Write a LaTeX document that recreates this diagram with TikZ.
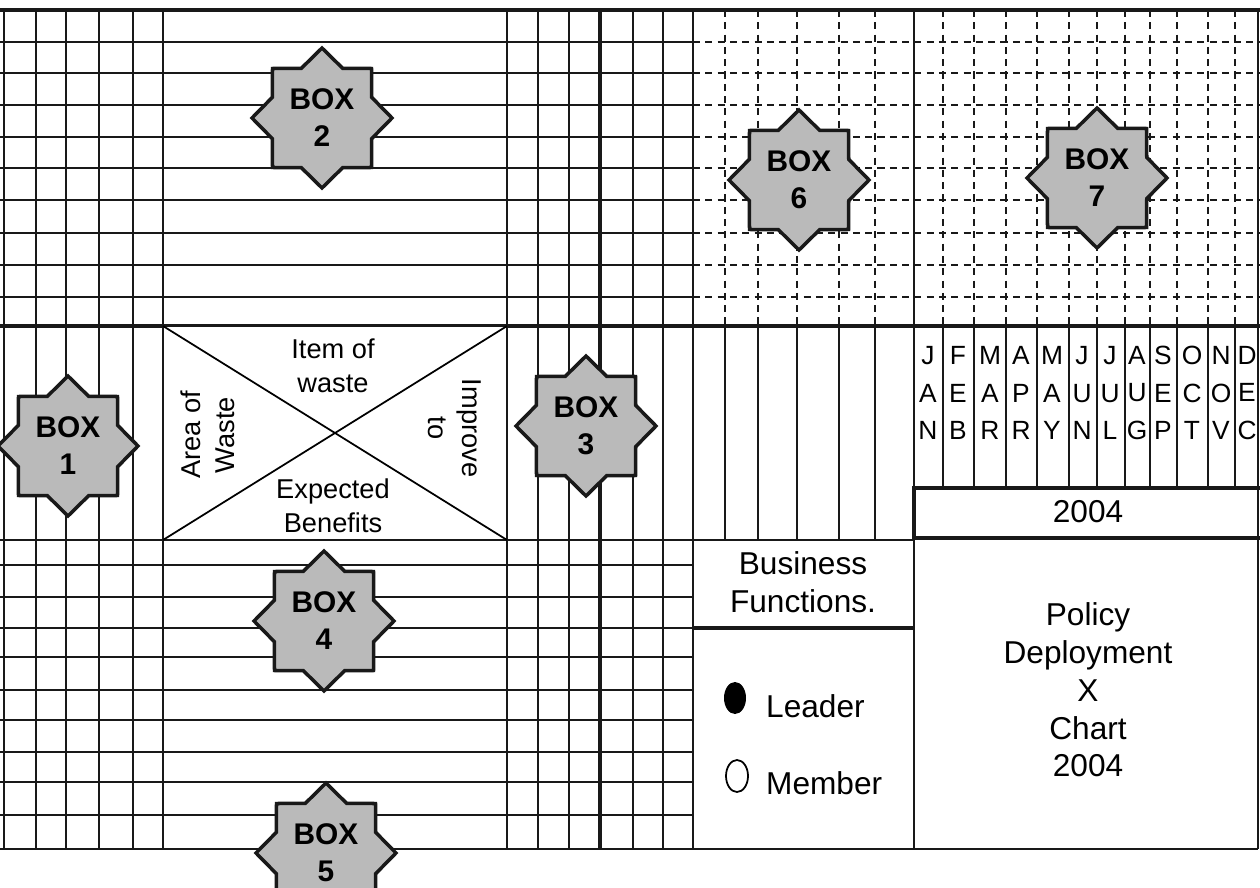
\documentclass[tikz,border=0pt]{standalone}
\usepackage{fontspec}
\setmainfont{Liberation Sans}
\usetikzlibrary{shapes.geometric}
\begin{document}
\begin{tikzpicture}[x=0.02cm,y=-0.02cm,
  thin line/.style={line width=1.1pt,color=black!90},
  thick line/.style={line width=2.4pt,color=black!90},
  dash line/.style={line width=1.1pt,dash pattern=on 4pt off 3pt,color=black!90},
  starbox/.style={star,star points=8,minimum size=2.8cm,star point ratio=1.3,fill=black!27,draw=black!90,line width=2pt,inner sep=0pt,font=\fontsize{17}{21}\selectfont\bfseries,align=center},
  lbl/.style={align=center,font=\fontsize{15.5}{19.5}\selectfont},
  mon/.style={align=center,font=\fontsize{15}{21.5}\selectfont},
  big/.style={align=center,font=\fontsize{18}{21.5}\selectfont}]
\useasboundingbox (0,0) rectangle (1260,888);
% left block grid
\foreach \x in {4,36,66,99,133,163,507,538,569,633,663,693}
  \draw[thin line] (\x,10) -- (\x,849);
\draw[thick line] (600,10) -- (600,849);
\foreach \y in {42,73,105,137,168,200,233,265,297}{
  \draw[thin line] (0,\y) -- (693,\y);
  \draw[dash line] (693,\y) -- (1260,\y);}
\foreach \y in {565,597,628,657,690,720,752,782,815}
  \draw[thin line] (0,\y) -- (693,\y);
\draw[thin line] (0,540) -- (914,540);
% top right dashed verticals
\foreach \x in {725,758,797,839,875,943,974,1006,1037,1069,1097,1125,1150,1177,1208,1235}
  \draw[dash line] (\x,10) -- (\x,326);
\draw[thin line] (914,10) -- (914,849);
% middle right
\foreach \x in {725,758,797,839,875}
  \draw[thin line] (\x,326) -- (\x,540);
\foreach \x in {943,974,1006,1037,1069,1097,1125,1150,1177,1208,1235}
  \draw[thin line] (\x,326) -- (\x,488);
\foreach [count=\i] \a/\b/\d/\c in {J/A/N/928,F/E/B/958,M/A/R/990,A/P/R/1021,M/A/Y/1052,J/U/N/1082,J/U/L/1110,A/U/G/1137,S/E/P/1163,O/C/T/1192,N/O/V/1221,D/E/C/1247}{
  \node[mon] (m\i) at (\c,393) {\a\\\b\\\d};}
% outer lines
\draw[thick line] (0,10) -- (1260,10);
\draw[thick line] (0,326) -- (1260,326);
\draw[thin line] (0,849) -- (1258,849);
\draw[thin line] (1258,10) -- (1258,849);
% 2004 box
\draw[thick line] (914,488) rectangle (1262,538);
\node[big] (yr) at (1088,512) {2004};
% business functions
\draw[thick line] (693,628) -- (914,628);
\node[big] (bf) at (803,582) {Business\\Functions.};
\fill (735,698) ellipse [x radius=11,y radius=16];
\draw[line width=1pt] (737,776) ellipse [x radius=11,y radius=16];
\node[big,anchor=west] (ld) at (760,706) {Leader};
\node[big,anchor=west] (mb) at (760,783) {Member};
\node[big] (pd) at (1088,690) {Policy\\Deployment\\X\\Chart\\2004};
% X box
\draw[thin line,fill=white] (163,326) rectangle (507,540);
\draw[line width=1pt] (163,326) -- (507,540) (163,540) -- (507,326);
\node[lbl] (it) at (333,366) {Item of\\waste};
\node[lbl] (eb) at (333,506) {Expected\\Benefits};
\node[lbl,rotate=90] (aw) at (208,435) {Area of\\Waste};
\node[lbl,rotate=-90] (im) at (455,428) {Improve\\to};
% stars
\node[starbox] (b1) at (68,446) {BOX\\1};
\node[starbox] (b2) at (322,118) {BOX\\2};
\node[starbox] (b3) at (586,426) {BOX\\3};
\node[starbox] (b4) at (324,621) {BOX\\4};
\node[starbox] (b5) at (326,853) {BOX\\5};
\node[starbox] (b6) at (799,180) {BOX\\6};
\node[starbox] (b7) at (1097,178) {BOX\\7};
\end{tikzpicture}
\end{document}
